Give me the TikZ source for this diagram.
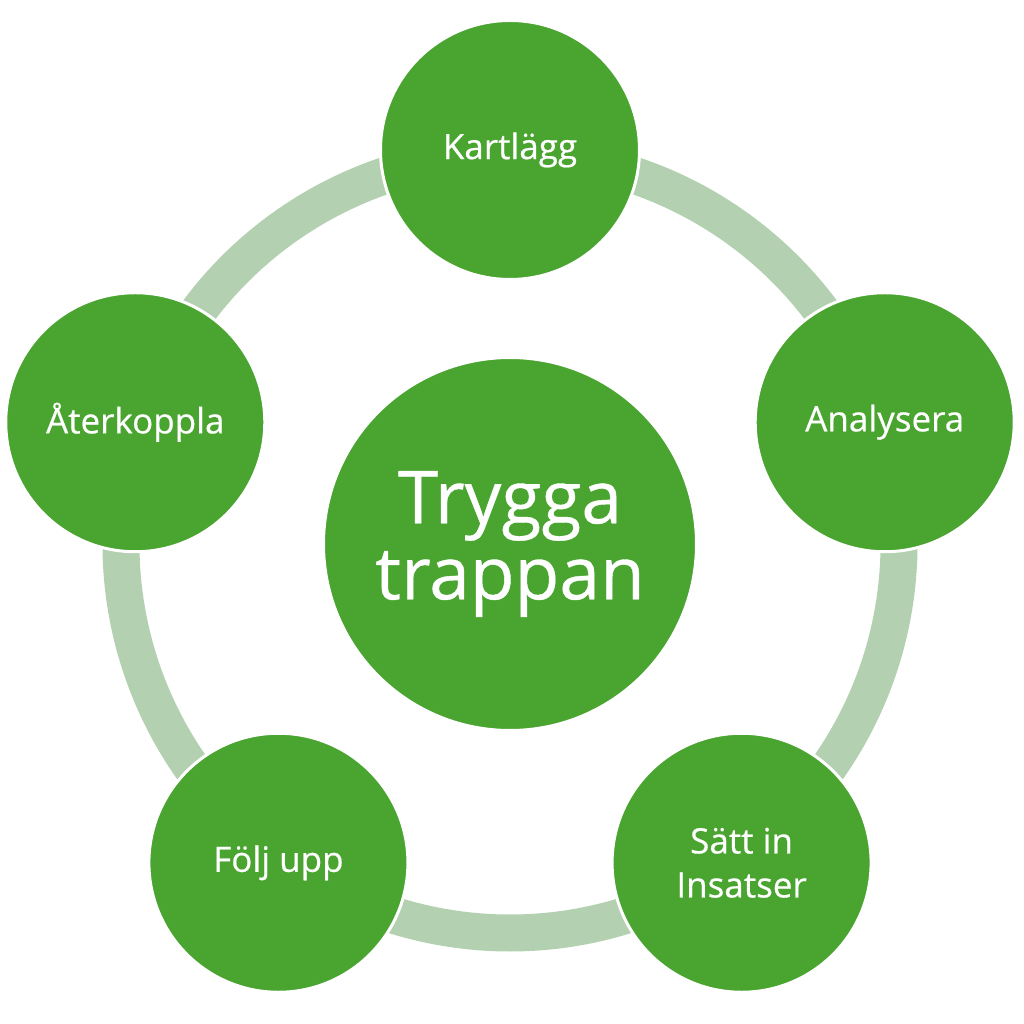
\documentclass[tikz,border=0pt]{standalone}
\usepackage{fontspec}
\newfontfamily\stagefont{Open Sans}[FakeBold=0.5]
\usetikzlibrary{calc}
\definecolor{stepgreen}{RGB}{74,164,48}
\definecolor{ringgreen}{RGB}{179,209,176}
\tikzset{
    stage/.style={circle, fill=stepgreen, draw=white, line width=3pt, minimum size=259pt, inner sep=0pt, text=white, font=\stagefont\fontsize{35}{44}\selectfont, align=center},
    hub/.style={circle, fill=stepgreen, draw=white, line width=3pt, minimum size=373pt, inner sep=0pt, text=white, font=\stagefont\fontsize{73}{76}\selectfont, align=center},
    ring/.style={ringgreen, line width=37pt}
}
\begin{document}
\begin{tikzpicture}[x=1pt,y=1pt]
        \useasboundingbox (-510,-480) rectangle (514,544);
        \coordinate (C) at (0,0);
        
        % ring behind the stages
        \coordinate (R1) at (90:389);
        \coordinate (R2) at (18:389);
        \coordinate (R3) at (-54:389);
        \coordinate (R4) at (-126:389);
        \coordinate (R5) at (162:389);
        \draw[ring] (R1) arc[start angle=90, end angle=18, radius=389];
        \draw[ring] (R2) arc[start angle=18, end angle=-54, radius=389];
        \draw[ring] (R3) arc[start angle=-54, end angle=-126, radius=389];
        \draw[ring] (R4) arc[start angle=-126, end angle=-198, radius=389];
        \draw[ring] (R5) arc[start angle=162, end angle=90, radius=389];
        
        \node[hub] (trygga) at (C) {Trygga\\trappan};
        
        \node[stage] (kartlagg) at (90:394) {Kartlägg};
        \node[stage] (analysera) at (18:394) {Analysera};
        \node[stage] (insatser) at (-54:394) {Sätt in\\Insatser};
        \node[stage] (folj) at (-126:394) {Följ upp};
        \node[stage] (aterkoppla) at (162:394) {Återkoppla};
    \end{tikzpicture}
\end{document}
